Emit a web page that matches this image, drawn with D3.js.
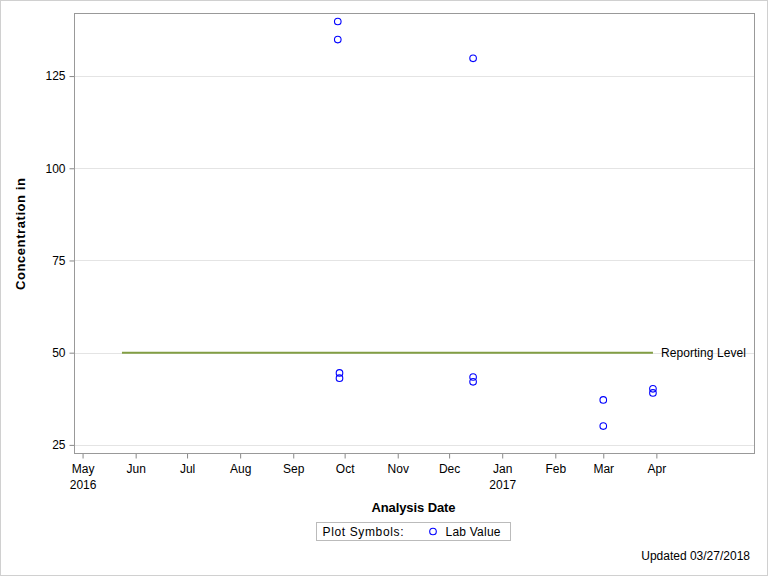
<!DOCTYPE html>
<html><head><meta charset="utf-8">
<script src="https://cdn.jsdelivr.net/npm/d3@7"></script>
<style>body{margin:0;background:#fff}svg{display:block;font-family:"Liberation Sans",Arial,sans-serif}</style>
</head><body><svg id="c" width="768" height="576"></svg>
<script>
const dates = ["2016-09-27","2016-09-27","2016-09-28","2016-09-28","2016-12-15","2016-12-15","2016-12-15","2017-03-01","2017-03-01","2017-03-30","2017-03-30"];
const values = [139.8,134.9,44.5,43.1,129.8,43.4,42.1,37.2,30.1,40.2,39.1];
const yTicks = [25,50,75,100,125];
const xTicks = ["2016-05-01","2016-06-01","2016-07-01","2016-08-01","2016-09-01","2016-10-01","2016-11-01","2016-12-01","2017-01-01","2017-02-01","2017-03-01","2017-04-01"];
const reportLevel = 50;
const reportStart = "2016-05-24", reportEnd = "2017-03-30";

const parse = d3.utcParse("%Y-%m-%d");
const svg = d3.select("#c");
const L=74,T=13,R=754,B=453;
const x = d3.scaleUtc().domain([parse("2016-04-26"), parse("2017-05-28")]).range([L,R]);
const y = d3.scaleLinear().domain([22.8,142.1]).range([B,T]);

svg.append("rect").attr("x",0.5).attr("y",0.5).attr("width",767).attr("height",575).attr("fill","#fff").attr("stroke","#d0d0d0");

// grid
svg.append("g").selectAll("line").data(yTicks).join("line")
 .attr("x1",L).attr("x2",R).attr("y1",d=>Math.round(y(d))+0.5).attr("y2",d=>Math.round(y(d))+0.5)
 .attr("stroke","#e4e4e4");

// y axis
const ya = svg.append("g").attr("transform",`translate(${L+0.5},0)`)
 .call(d3.axisLeft(y).tickValues(yTicks).tickSize(5).tickPadding(4).tickFormat(d3.format("d")));
ya.select(".domain").remove();
ya.selectAll("line").attr("stroke","#888");
ya.selectAll("text").attr("font-size",12).attr("fill","#000").attr("font-family","Liberation Sans, Arial, sans-serif");

// x axis
const xa = svg.append("g").attr("transform",`translate(0,${B+0.5})`)
 .call(d3.axisBottom(x).tickValues(xTicks.map(parse)).tickSize(5).tickPadding(6).tickFormat(d3.utcFormat("%b")));
xa.select(".domain").remove();
xa.selectAll("line").attr("stroke","#888");
xa.selectAll("text").attr("font-size",12).attr("fill","#000").attr("font-family","Liberation Sans, Arial, sans-serif");
xa.selectAll(".tick").filter(d=>d.getUTCMonth()===0 || +d===+parse("2016-05-01"))
 .append("text").attr("y",27).attr("dy","0.71em").attr("text-anchor","middle").attr("font-size",12).attr("fill","#000")
 .text(d=>d.getUTCFullYear());

// frame
svg.append("rect").attr("x",L+0.5).attr("y",T+0.5).attr("width",R-L).attr("height",B-T).attr("fill","none").attr("stroke","#999");

// reporting level
svg.append("line").attr("x1",x(parse(reportStart))).attr("x2",x(parse(reportEnd)))
 .attr("y1",y(reportLevel)).attr("y2",y(reportLevel)).attr("stroke","#829e44").attr("stroke-width",2);
svg.append("text").attr("x",x(parse(reportEnd))+8).attr("y",y(reportLevel)).attr("dy","0.35em")
 .attr("font-size",12).attr("textLength",85).text("Reporting Level");

// points
svg.append("g").selectAll("circle").data(values).join("circle")
 .attr("cx",(d,i)=>x(parse(dates[i]))).attr("cy",d=>y(d)).attr("r",3.3)
 .attr("fill","none").attr("stroke","#0000ff").attr("stroke-width",1.1);

// titles
svg.append("text").attr("transform",`translate(25,${(T+B)/2+1}) rotate(-90)`).attr("text-anchor","middle")
 .attr("font-size",13).attr("font-weight","bold").attr("textLength",112).text("Concentration in");
svg.append("text").attr("x",413.5).attr("y",512).attr("text-anchor","middle")
 .attr("font-size",13).attr("font-weight","bold").attr("textLength",84).text("Analysis Date");

// legend
svg.append("rect").attr("x",316.5).attr("y",522.5).attr("width",194).attr("height",18).attr("fill","none").attr("stroke","#bbb");
svg.append("text").attr("x",322.5).attr("y",536).attr("font-size",12).attr("textLength",81).text("Plot Symbols:");
svg.append("circle").attr("cx",433).attr("cy",531.5).attr("r",3.3).attr("fill","none").attr("stroke","#0000ff").attr("stroke-width",1.1);
svg.append("text").attr("x",445.5).attr("y",536).attr("font-size",12).attr("textLength",55).text("Lab Value");

svg.append("text").attr("x",750).attr("y",560).attr("text-anchor","end").attr("font-size",12).text("Updated 03/27/2018");
</script></body></html>
